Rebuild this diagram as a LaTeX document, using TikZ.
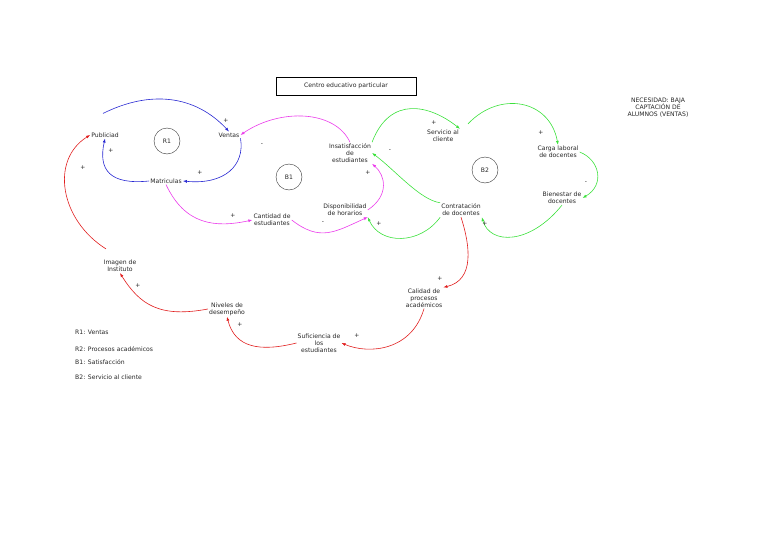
\documentclass[tikz,border=0pt]{standalone}
\usepackage{fontspec}
\setmainfont{DejaVu Sans}
\usetikzlibrary{arrows.meta}
\definecolor{bl}{RGB}{40,40,210}
\definecolor{mg}{RGB}{235,60,235}
\definecolor{gr}{RGB}{60,225,60}
\definecolor{rd}{RGB}{225,30,30}
\begin{document}
\begin{tikzpicture}[x=1pt,y=-1pt,
  every node/.style={font=\fontsize{6.1}{7.1}\selectfont, align=center, text=black!85},
  lbl/.style={inner sep=1pt},
  lp/.style={circle,draw=black!80,minimum size=26pt,inner sep=0pt},
  lnk/.style={-{Latex[length=4pt,width=3pt]}, line width=0.6pt},
  sg/.style={font=\fontsize{6}{7}\selectfont}]
\useasboundingbox (0,0) rectangle (768,543);
\node[draw,minimum width=140pt,minimum height=18pt] (title) at (346,86) {Centro educativo particular};
\node[lbl] (pub) at (105,135) {Publiciad};
\node[lbl] (ven) at (229,135) {Ventas};
\node[lp] (r1) at (167,141) {R1};
\node[lbl] (mat) at (166,181) {Matriculas};
\node[lp] (b1) at (289,177) {B1};
\node[lbl] (ins) at (350,153) {Insatisfacción\\de\\estudiantes};
\node[lbl] (can) at (272,220) {Cantidad de\\estudiantes};
\node[lbl] (dis) at (345,210) {Disponibilidad\\de horarios};
\node[lbl] (ser) at (443,136) {Servicio al\\cliente};
\node[lp] (b2) at (485,170) {B2};
\node[lbl] (car) at (558,152) {Carga laboral\\de docentes};
\node[lbl] (bie) at (562,198) {Bienestar de\\docentes};
\node[lbl] (con) at (461,210) {Contratación\\de docentes};
\node[lbl] (nec) at (658,108) {NECESIDAD: BAJA\\CAPTACIÓN DE\\ALUMNOS (VENTAS)};
\node[lbl] (ima) at (120,266) {Imagen de\\Instituto};
\node[lbl] (niv) at (227,309) {Niveles de\\desempeño};
\node[lbl] (cal) at (424,298) {Calidad de\\procesos\\académicos};
\node[lbl] (suf) at (319,343) {Suficiencia de\\los\\estudiantes};
\node[lbl,anchor=west] (l1) at (74,332) {R1: Ventas};
\node[lbl,anchor=west] (l2) at (74,349) {R2: Procesos académicos};
\node[lbl,anchor=west] (l3) at (74,362) {B1: Satisfacción};
\node[lbl,anchor=west] (l4) at (74,377) {B2: Servicio al cliente};
% blue
\draw[lnk,bl] (pub.north)++(-2,-18) coordinate (a1) .. controls (150,90) and (195,95) .. (ven.north);
\draw[lnk,bl] (ven.south east) .. controls (245,165) and (225,185) .. (mat.east);
\draw[lnk,bl] (mat.west) .. controls (110,185) and (98,170) .. (pub.south);
% magenta
\draw[lnk,mg] (ins.north) .. controls (335,110) and (280,108) .. (ven.east);
\draw[lnk,mg] (mat.south) .. controls (185,225) and (215,228) .. (can.west);
\draw[lnk,mg] (can.east) .. controls (320,242) and (335,232) .. (dis.south east);
\draw[lnk,mg] (dis.east) .. controls (390,195) and (385,175) .. (ins.south east);
% green
\draw[lnk,gr] (ins.north east) .. controls (390,95) and (430,105) .. (ser.north east);
\draw[lnk,gr] (ser.north east) ++(8,-5) coordinate (a2) .. controls (500,90) and (550,100) .. (car.north);
\draw[lnk,gr] (car.east) .. controls (600,160) and (605,185) .. (bie.east);
\draw[lnk,gr] (bie.south) .. controls (530,245) and (490,245) .. (con.south east);
\draw[lnk,gr] (con.north west) .. controls (420,200) and (395,170) .. (ins.east);
\draw[lnk,gr] (con.south west) .. controls (420,245) and (380,245) .. (dis.south east);
% red
\draw[lnk,rd] (con.south) .. controls (470,245) and (475,280) .. (cal.north east);
\draw[lnk,rd] (cal.south) .. controls (412,350) and (370,355) .. (suf.east);
\draw[lnk,rd] (suf.west) .. controls (260,352) and (235,348) .. (niv.south);
\draw[lnk,rd] (niv.west) .. controls (160,318) and (140,305) .. (ima.south);
\draw[lnk,rd] (ima.north) ++(-14,-10) coordinate (a3) .. controls (60,220) and (50,160) .. (pub.west);
% signs
\node[sg] (s1) at (226,121) {+};
\node[sg] (s2) at (111,151) {+};
\node[sg] (s3) at (200,173) {+};
\node[sg] (s4) at (262,145) {-};
\node[sg] (s5) at (233,216) {+};
\node[sg] (s6) at (323,223) {-};
\node[sg] (s7) at (379,224) {+};
\node[sg] (s8) at (368,173) {+};
\node[sg] (s9) at (390,151) {-};
\node[sg] (s10) at (434,123) {+};
\node[sg] (s11) at (541,133) {+};
\node[sg] (s12) at (586,183) {-};
\node[sg] (s13) at (485,224) {+};
\node[sg] (s14) at (83,168) {+};
\node[sg] (s15) at (138,286) {+};
\node[sg] (s16) at (240,325) {+};
\node[sg] (s17) at (357,336) {+};
\node[sg] (s18) at (440,279) {+};
\end{tikzpicture}
\end{document}
